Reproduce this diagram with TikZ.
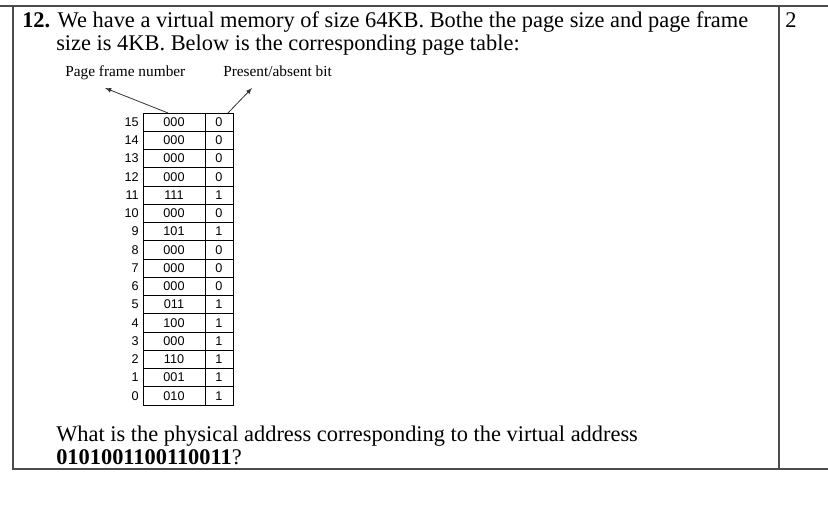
\documentclass[tikz,border=0pt]{standalone}
\usepackage{fontspec}
\setmainfont{Liberation Serif}
\newfontfamily\tabfont{Liberation Sans}
\begin{document}
\begin{tikzpicture}[x=0.75pt,y=-0.75pt,
  body/.style={anchor=base west,inner sep=0pt,font=\fontsize{16.8}{20}\selectfont},
  lbl/.style={anchor=base west,inner sep=0pt,font=\fontsize{11.5}{13}\selectfont},
  cell/.style={font=\tabfont\fontsize{9.5}{10}\selectfont,inner sep=0pt},
  rule/.style={draw=black!70,line width=0.8pt},
  arr/.style={draw=black!80,line width=0.6pt,-latex}]
\useasboundingbox (0,0) rectangle (828,510);
% outer frame
\draw[rule] (0,6) -- (828,6);
\draw[rule] (13,6) -- (13,469) -- (828,469);
\draw[rule] (779,6) -- (779,469);
\node[body] (two) at (785,28) {2};
\node[body] (l1) at (22,28) {\textbf{12.} We have a virtual memory of size 64KB. Bothe the page size and page frame};
\node[body] (l2) at (56,51) {size is 4KB. Below is the corresponding page table:};
\node[lbl] (pfn) at (65,77) {Page frame number};
\node[lbl] (pab) at (223,77) {Present/absent bit};
% table
\def\rh{18.25}
\foreach \f/\b [count=\i from 0] in {000/0,000/0,000/0,000/0,111/1,000/0,101/1,000/0,000/0,000/0,011/1,100/1,000/1,110/1,001/1,010/1}{
  \pgfmathsetmacro\yy{113+\i*\rh}
  \pgfmathtruncatemacro\n{15-\i}
  \draw[line width=0.7pt] (143,\yy) rectangle (205,\yy+\rh);
  \draw[line width=0.7pt] (205,\yy) rectangle (233,\yy+\rh);
  \node[cell] at (174,\yy+\rh/2) {\f};
  \node[cell] at (219,\yy+\rh/2) {\b};
  \node[cell,anchor=east] at (139,\yy+\rh/2) {\n};
}
\coordinate (ta) at (168,113);
\coordinate (tb) at (228,113);
\coordinate (ea) at (105,88);
\coordinate (eb) at (252,88);
\draw[arr] (ta) -- (ea);
\draw[arr] (tb) -- (eb);
\node[body] (q1) at (56,441) {What is the physical address corresponding to the virtual address};
\node[body] (q2) at (56,464) {\textbf{0101001100110011}?};
\end{tikzpicture}
\end{document}
